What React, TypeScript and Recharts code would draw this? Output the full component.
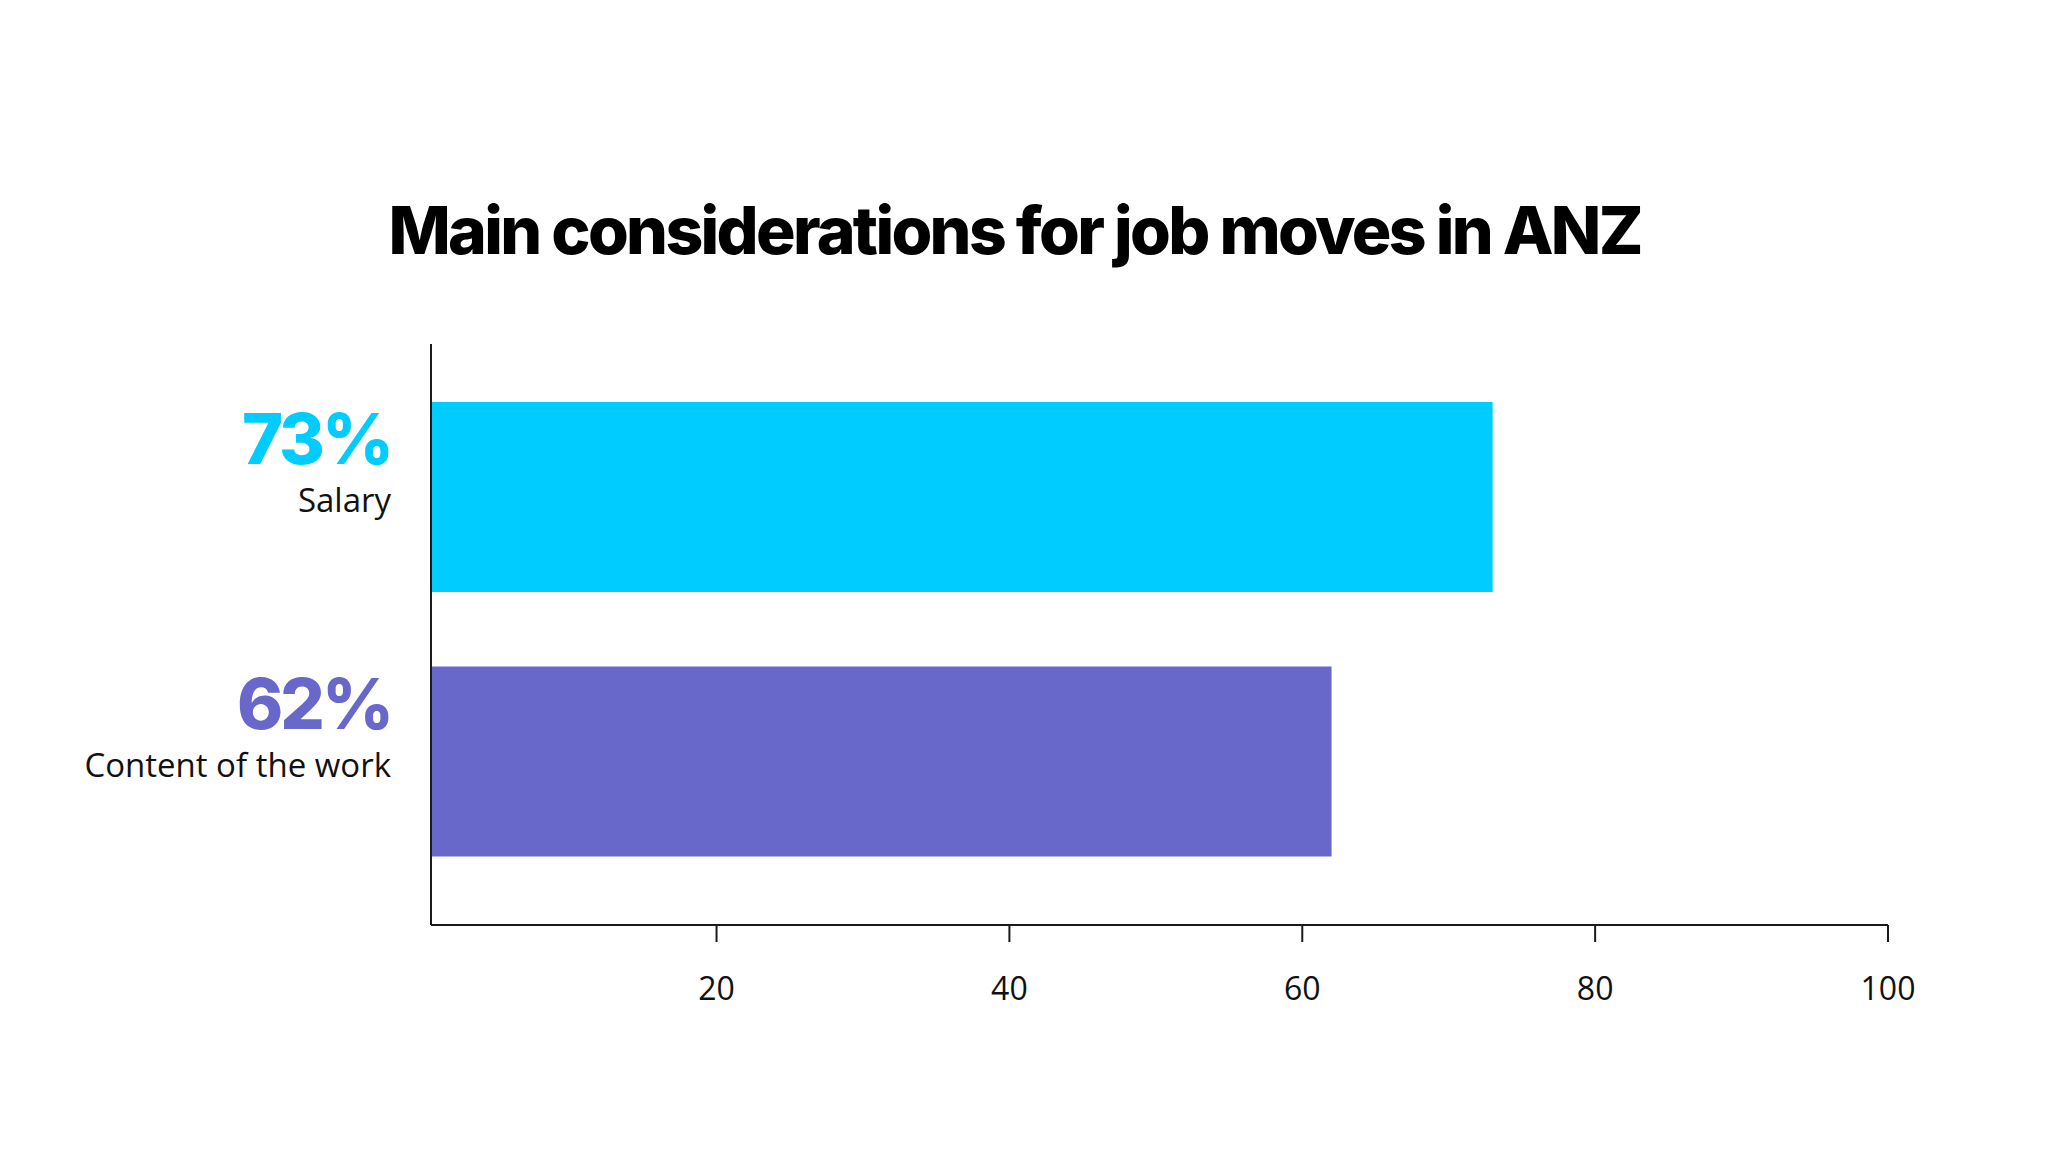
import React from "react";
import { BarChart, Bar, XAxis, YAxis, Cell } from "recharts";

const categories = ["Salary", "Content of the work"];
const values = [73, 62];
const colors = ["#00CCFF", "#6868CB"];
const xTicks = [20, 40, 60, 80, 100];
const title = "Main considerations for job moves in ANZ";

const data = categories.map((c, i) => ({ name: c, value: values[i], color: colors[i] }));

const CategoryTick = (props: any) => {
  const { x, y, payload, index } = props;
  const row = data[index] ?? data.find((d) => d.name === payload.value);
  const tx = x - 40;
  return (
    <g>
      <text
        x={tx}
        y={y - 33}
        textAnchor="end"
        fill={row?.color}
        style={{ fontFamily: "Inter, 'Noto Sans', sans-serif", fontWeight: 800, fontSize: 70, letterSpacing: -3 }}
      >
        {`${row?.value}%`}
      </text>
      <text
        x={tx}
        y={y + 15}
        textAnchor="end"
        fill="#111"
        style={{ fontFamily: "'Open Sans', 'Noto Sans', sans-serif", fontWeight: 400, fontSize: 33 }}
      >
        {payload.value}
      </text>
    </g>
  );
};

export default function App() {
  return (
    <div style={{ position: "absolute", left: 0, top: 0, width: 2048, height: 1152, background: "#fff" }}>
      <svg width={2048} height={1152} style={{ position: "absolute", left: 0, top: 0 }}>
        <text
          x={1016}
          y={254}
          textAnchor="middle"
          textLength={1255}
          lengthAdjust="spacing"
          fill="#000"
          style={{ fontFamily: "Inter, 'Noto Sans', sans-serif", fontWeight: 800, fontSize: 66 }}
        >
          {title}
        </text>
      </svg>
      <div style={{ position: "absolute", left: 0, top: 0 }}>
        <BarChart
          width={2048}
          height={1152}
          data={data}
          layout="vertical"
          margin={{ top: 344, right: 160, bottom: 167, left: 331 }}
        >
          <XAxis
            type="number"
            domain={[0.5, 100]}
            ticks={xTicks}
            allowDataOverflow
            height={60}
            axisLine={{ stroke: "#1a1a1a", strokeWidth: 2 }}
            tickLine={{ stroke: "#1a1a1a", strokeWidth: 2 }}
            tickSize={17}
            tickMargin={35}
            tick={{ fill: "#111", fontSize: 32, fontFamily: "'Open Sans', 'Noto Sans', sans-serif" }}
          />
          <YAxis
            type="category"
            dataKey="name"
            width={100}
            padding={{ top: 21, bottom: 31 }}
            axisLine={{ stroke: "#1a1a1a", strokeWidth: 2 }}
            tickLine={false}
            tickSize={0}
            tickMargin={0}
            tick={<CategoryTick />}
            interval={0}
          />
          <Bar dataKey="value" barSize={190} isAnimationActive={false}>
            {data.map((d, i) => (
              <Cell key={i} fill={d.color} />
            ))}
          </Bar>
        </BarChart>
      </div>
    </div>
  );
}
